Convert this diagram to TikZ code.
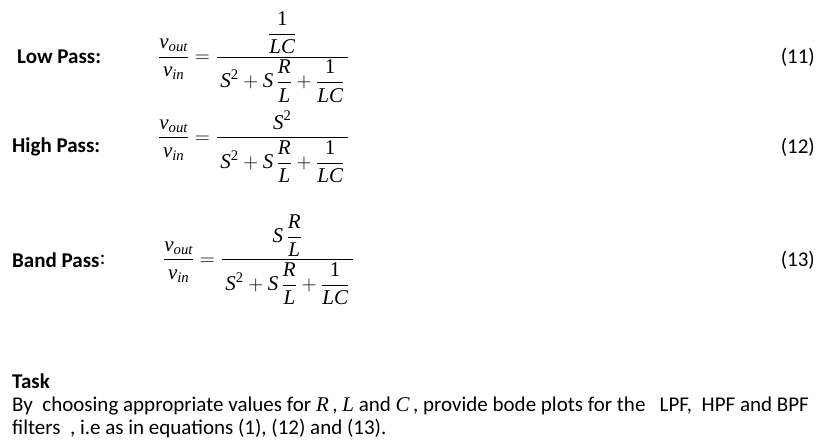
\documentclass[tikz,border=0pt]{standalone}
\usepackage{fontspec}
\usepackage{amsmath}
\setmainfont{Carlito}
\newfontfamily\eqfont{Liberation Serif}
\newcommand{\ei}[1]{\text{\eqfont\itshape #1}}
\newcommand{\er}[1]{\text{\eqfont #1}}
\begin{document}
\begin{tikzpicture}[x=1pt,y=-1pt,
  lbl/.style={anchor=west,font=\fontsize{21}{25}\selectfont\bfseries,inner sep=0},
  num/.style={anchor=east,font=\fontsize{21}{25}\selectfont,inner sep=0},
  eq/.style={anchor=west,inner sep=0,font=\fontsize{21}{25}\selectfont},
  txt/.style={anchor=west,font=\fontsize{21}{25}\selectfont,inner sep=0}]
\useasboundingbox[fill=white] (0,0) rectangle (822,441);
\def\VV{\dfrac{\ei{v}_{\ei{out}}}{\ei{v}_{\ei{in}}}}
\def\DEN{\,\ei{S}^{\er{2}}+\ei{S}\,\dfrac{\ei{R}}{\ei{L}}+\dfrac{\er{1}}{\ei{LC}}\,}
\node[lbl] (l1) at (17,57) {Low Pass:};
\node[eq] (e1) at (158,57) {$\VV=\dfrac{\dfrac{\er{1}}{\ei{LC}}}{\DEN}$};
\node[num] (n1) at (815,57) {(11)};
\node[lbl] (l2) at (12,147) {High Pass:};
\node[eq] (e2) at (158,147) {$\VV=\dfrac{\ei{S}^{\er{2}}}{\DEN}$};
\node[num] (n2) at (815,147) {(12)};
\node[lbl] (l3) at (12,260) {Band Pass};
\node[txt] (c3) at (l3.east) {:};
\node[eq] (e3) at (163,260) {$\VV=\dfrac{\ei{S}\,\dfrac{\ei{R}}{\ei{L}}}{\DEN}$};
\node[num] (n3) at (815,260) {(13)};
\node[lbl] (task) at (12,381) {Task};
\node[txt] (t1) at (12,406) {By\ \ choosing appropriate values for \ei{R}\,, \ei{L}\ and \ei{C}\,, provide bode plots for the \ \ LPF,\ \ HPF and BPF};
\node[txt] (t2) at (12,429) {filters\ \ , i.e as in equations (1), (12) and (13).};
\end{tikzpicture}
\end{document}
